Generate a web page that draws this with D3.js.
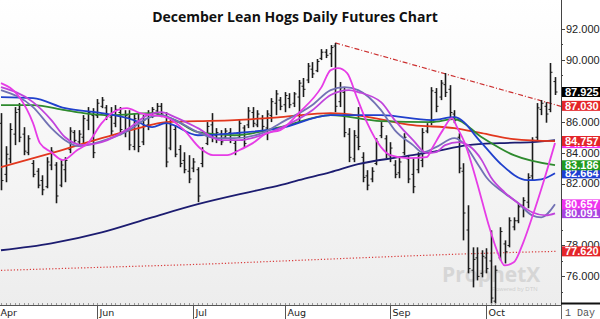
<!DOCTYPE html>
<html>
<head>
<meta charset="utf-8">
<script src="https://cdn.jsdelivr.net/npm/d3@7"></script>
<style>
  body { margin: 0; background: #fff; }
  svg { display: block; }
</style>
</head>
<body>
<div id="chart"></div>
<script>
var width = 600;
var height = 319;

// daily bars
var highs = [86.56,84.42,85.91,86.95,87.21,85.65,85.13,83.52,83.00,82.54,83.71,84.36,83.39,83.52,83.71,85.65,85.46,85.46,86.43,86.95,
  86.88,87.47,87.60,87.08,86.95,87.08,86.95,86.75,86.75,86.56,86.56,86.43,86.75,86.95,87.21,87.21,86.62,86.11,85.78,84.49,
  84.03,83.84,83.65,83.06,84.36,85.98,86.56,85.59,85.46,85.59,85.59,84.81,86.11,85.78,86.95,86.95,86.75,86.43,86.75,87.53,
  88.05,87.60,87.92,87.85,87.92,88.70,88.83,89.80,89.86,90.06,90.70,90.70,90.96,91.09,88.57,88.18,85.59,85.46,86.95,84.03,
  82.87,83.06,84.94,85.98,85.13,84.68,83.52,83.71,85.26,83.84,83.65,84.03,85.59,85.91,88.24,88.18,88.70,89.15,88.37,86.75,
  85.26,83.32,80.60,77.88,77.88,77.69,77.82,78.98,76.71,79.18,78.33,79.82,79.82,80.73,81.12,82.67,85.00,87.21,87.40,87.27,
  89.80,88.89];
var lows = [81.57,82.09,83.32,84.49,84.68,83.84,83.84,82.41,81.70,81.25,81.70,82.87,80.73,81.77,82.09,83.97,84.62,84.49,84.62,85.46,
  83.65,86.24,86.88,86.11,85.13,85.65,85.13,85.00,84.16,84.16,84.03,84.49,85.46,86.24,86.43,86.30,83.06,84.16,83.71,83.06,
  82.67,82.03,82.74,80.80,83.06,84.49,84.68,84.62,84.49,84.94,84.62,83.84,84.94,84.36,85.59,85.65,85.65,85.46,84.81,85.98,
  86.43,86.75,86.62,86.88,86.95,85.98,87.60,88.50,88.83,89.21,89.99,90.12,89.54,86.62,86.95,85.00,83.39,83.39,84.16,82.09,
  81.57,82.09,83.19,84.94,83.65,83.39,82.35,82.35,83.84,82.03,81.38,82.67,83.06,85.26,85.78,86.62,87.40,87.60,86.24,85.91,
  82.67,78.33,76.20,75.29,75.74,75.94,76.20,74.25,74.25,77.04,76.84,77.88,78.98,79.44,79.82,80.41,82.22,84.81,86.43,85.94,
  86.62,87.73];
var opens = [85.9,82.6,83.6,85.2,86.8,85.2,84.0,83.3,82.8,82.2,81.8,83.2,83.2,81.9,82.9,84.2,85.3,84.7,85.0,86.1,
  86.4,86.4,87.0,86.9,86.3,85.9,86.6,85.4,86.3,84.4,86.0,84.7,85.8,86.4,86.7,87.0,86.3,84.3,85.5,84.2,
  83.5,82.8,83.0,82.9,83.3,84.6,85.8,85.1,85.2,85.0,85.3,84.6,85.0,85.6,85.8,86.6,85.8,86.2,85.6,86.4,
  87.2,87.4,87.1,87.5,87.2,87.6,88.3,88.7,89.4,89.3,90.1,90.5,90.4,90.9,87.3,87.9,85.2,83.6,85.0,83.7,
  82.5,82.3,83.3,85.1,84.9,83.8,83.2,82.7,84.0,83.6,82.6,82.9,83.5,85.4,86.0,87.9,87.6,88.4,88.1,86.5,
  85.0,82.8,79.0,76.4,77.2,76.2,77.2,77.0,74.4,77.2,78.1,78.0,79.2,79.6,80.6,80.8,82.5,85.0,86.8,87.0,
  86.8,88.6];
var closes = [82.2,83.9,85.5,86.6,85.0,84.1,84.9,82.6,81.9,81.6,83.4,84.1,81.2,83.2,83.5,85.4,84.8,85.2,86.2,86.6,
  84.0,87.2,87.4,86.4,85.4,86.8,85.5,86.4,84.5,86.2,84.4,86.1,86.5,86.8,87.0,86.5,83.4,85.8,83.9,83.3,
  82.9,82.3,83.4,81.2,84.1,85.7,85.0,85.3,84.7,85.4,84.8,84.1,85.9,84.6,86.7,85.9,86.5,85.7,86.5,87.3,
  87.8,87.0,87.7,87.1,87.8,88.5,88.1,89.6,89.1,89.9,90.5,90.3,90.8,87.0,88.2,85.3,83.7,85.1,84.4,82.4,
  81.9,82.8,84.7,85.7,83.9,84.3,82.6,83.4,85.0,82.3,81.8,83.8,85.3,85.7,88.0,87.0,88.5,87.9,86.6,86.1,
  83.0,80.1,76.5,77.1,76.0,77.3,76.5,74.6,76.4,78.9,77.6,79.6,79.6,80.5,80.9,82.4,84.8,86.9,87.2,86.5,
  89.2,87.925];

// moving averages as [bar index, price]
var maMagenta = [[0,88.50],[4,87.60],[7,85.91],[8.5,84.62],[11,84.03],[13.5,83.52],[16.6,84.16],[19,84.62],[22,85.91],[24.5,86.62],
  [27.5,86.88],[30.4,86.56],[33,86.43],[36,86.30],[40,85.46],[43.5,84.29],[46.3,83.84],[49.4,83.84],[52,84.16],[55,84.62],
  [58,85.26],[61,85.46],[65,86.56],[70,88.24],[72,89.34],[73.6,89.47],[75.6,89.15],[77.7,87.60],[80,85.91],[83,84.36],
  [85,83.84],[88.7,83.65],[93,83.71],[94.3,84.36],[96.5,85.46],[98.5,86.24],[99.6,85.65],[101.3,84.62],[104,82.03],[106.4,79.44],
  [108.3,77.69],[110,76.71],[112,76.91],[114,78.14],[116,79.82],[118.4,82.03],[121,84.62]];
var maViolet = [[0,88.24],[7,87.27],[11,86.11],[14,85.00],[18,84.49],[22,84.68],[28,85.59],[32,86.43],[35,86.62],[38,86.30],
  [43,85.59],[48,84.81],[52,84.81],[57,85.13],[61,85.59],[68,86.75],[72,87.73],[76,88.05],[78,87.92],[83,87.27],
  [86,86.11],[90,84.81],[93,83.97],[95,84.03],[97,84.49],[100,84.68],[102,84.49],[105,83.52],[107,82.41],[110,81.44],
  [113,80.73],[116,80.15],[119,79.95],[121,80.08]];
var maSlate = [[0,88.05],[7,86.95],[11,85.59],[14,84.81],[17,84.42],[22,84.75],[28,85.46],[32,86.24],[35,86.43],[38,86.11],
  [43,85.33],[47,84.94],[51,84.94],[57,85.26],[61,85.91],[68,87.08],[72,88.05],[75,88.24],[78,88.05],[83,86.75],
  [86,85.46],[90,84.49],[92,84.03],[95,84.36],[99,84.94],[101,84.62],[104,83.32],[106,82.41],[110,81.38],[113,80.73],
  [116,79.95],[118,79.82],[121,80.67]];
var maBlue = [[0,87.60],[7,87.53],[14,86.88],[22,86.56],[29,86.11],[33,85.65],[36,85.91],[43,85.13],[51,85.26],[61,85.59],
  [72,86.43],[83,86.43],[94,86.11],[99,86.30],[105,84.62],[109,83.32],[115,82.22],[118,82.28],[121,82.67]];
var maGreen = [[0,87.08],[7,87.08],[14,86.75],[18,86.56],[24,86.43],[33,86.56],[38,86.11],[43,85.33],[51,85.13],[61,85.65],
  [72,86.43],[83,86.04],[94,85.98],[99,86.17],[105,85.00],[112,83.84],[121,83.19]];
var maRed = [[0,83.06],[11,83.97],[22,84.94],[30,85.59],[36,85.98],[43,86.04],[51,86.11],[61,86.30],[72,86.56],[79,86.37],
  [90,85.78],[99,85.59],[105,85.26],[112,84.88],[121,84.75]];
var maNavy = [[0,77.69],[11,78.14],[22,78.85],[33,79.82],[43,80.67],[54,81.44],[61,81.90],[65,82.22],[72,82.74],[78,83.26],
  [87,83.71],[94,84.03],[102,84.49],[109,84.62],[116,84.68],[121,84.81]];
var maLong = [[0,76.39],[22,76.59],[43,76.78],[65,77.04],[87,77.30],[105,77.49],[121.3,77.62]];
var trendLine = [[73,91.1],[122.3,87.0]];

var monthLabels = ["Apr", "Jun", "Jul", "Aug", "Sep", "Oct"];
var monthIdx = [-0.6, 21, 42, 62, 85, 106];
var priceTicks = [76, 78, 80, 82, 84, 86, 88, 90, 92];

// right-hand value flags
var flagValues = [84.62, 87.925, 87.030, 84.757, 82.664, 83.186, 80.091, 80.657, 77.620];
var flagTexts = ["84.620", "87.925", "87.030", "84.757", "82.664", "83.186", "80.091", "80.657", "77.620"];

var svg = d3.select("#chart").append("svg")
    .attr("width", width)
    .attr("height", height)
    .style("font-family", "'Liberation Sans', Arial, sans-serif");

var plotRight = 561, plotBottom = 305;

var defs = svg.append("defs");
var grad = defs.append("linearGradient").attr("id", "bg").attr("x1", 0).attr("x2", 0).attr("y1", 0).attr("y2", 1);
grad.append("stop").attr("offset", "0%").attr("stop-color", "#ffffff");
grad.append("stop").attr("offset", "100%").attr("stop-color", "#ededed");
defs.append("clipPath").attr("id", "clip")
  .append("rect").attr("x", 0).attr("y", 0).attr("width", plotRight).attr("height", plotBottom);

svg.append("rect").attr("width", width).attr("height", height).attr("fill", "#fff");
svg.append("rect").attr("width", plotRight).attr("height", plotBottom).attr("fill", "url(#bg)");

var x = d3.scaleLinear().domain([0, 121]).range([1, 555]);
var y = d3.scaleLinear().domain([76, 92]).range([276.4, 29]);

// title
var title = svg.append("text")
    .attr("x", 295).attr("y", 22)
    .attr("text-anchor", "middle")
    .style("font-family", "'Open Sans', sans-serif")
    .style("font-weight", "bold")
    .style("font-size", "15px")
    .attr("fill", "#111")
    .text("December Lean Hogs Daily Futures Chart");
var tw = title.node().getComputedTextLength();
title.style("font-size", (15 * 286 / tw) + "px");

// watermark
svg.append("text").attr("x", 442).attr("y", 282)
    .style("font-family", "'Open Sans', sans-serif").style("font-weight", "bold").style("font-size", "21px")
    .attr("fill", "#d6d6d6").text("ProphetX");
svg.append("text").attr("x", 492).attr("y", 291)
    .style("font-size", "6px").attr("fill", "#cfcfcf").text("Powered by DTN");

var plot = svg.append("g").attr("clip-path", "url(#clip)");

var line = d3.line()
    .x(d => x(d[0]))
    .y(d => y(d[1]))
    .curve(d3.curveMonotoneX);

// long term dotted + trend line
plot.append("path").datum(maLong).attr("d", line)
    .attr("fill", "none").attr("stroke", "#d83a3a").attr("stroke-width", 1.2).attr("stroke-dasharray", "1.2,2");
plot.append("path").datum(trendLine).attr("d", d3.line().x(d => x(d[0])).y(d => y(d[1])))
    .attr("fill", "none").attr("stroke", "#cc3030").attr("stroke-width", 1.2).attr("stroke-dasharray", "5,2,1,2");

// bars
var bars = plot.append("g").attr("stroke", "#1b1b1b");
highs.forEach(function(h, i) {
  var cx = Math.round(x(i)) + 0.5;
  bars.append("line").attr("x1", cx).attr("x2", cx).attr("y1", y(h)).attr("y2", y(lows[i])).attr("stroke-width", 1.6);
  bars.append("line").attr("x1", cx - 2).attr("x2", cx).attr("y1", y(opens[i])).attr("y2", y(opens[i])).attr("stroke-width", 1);
  bars.append("line").attr("x1", cx).attr("x2", cx + 2).attr("y1", y(closes[i])).attr("y2", y(closes[i])).attr("stroke-width", 1);
});

// moving averages
var maSeries = [
  { data: maNavy, color: "#1c1c70" },
  { data: maRed, color: "#e2371e" },
  { data: maGreen, color: "#2e8a2e" },
  { data: maBlue, color: "#2040cc" },
  { data: maSlate, color: "#7272b4" },
  { data: maViolet, color: "#c044dc" },
  { data: maMagenta, color: "#e63ce6" }
];
plot.selectAll(".ma").data(maSeries).enter().append("path")
    .attr("class", "ma")
    .attr("d", d => line(d.data))
    .attr("fill", "none")
    .attr("stroke", d => d.color)
    .attr("stroke-width", 1.8);

// right axis
var axisG = svg.append("g").attr("fill", "#222").style("font-size", "11px");
svg.append("line").attr("x1", plotRight + 0.5).attr("x2", plotRight + 0.5).attr("y1", 0).attr("y2", plotBottom)
    .attr("stroke", "#444");
d3.range(75, 93).forEach(function(v) {
  svg.append("line").attr("x1", plotRight).attr("x2", plotRight + (v % 2 === 0 ? 4 : 2))
    .attr("y1", Math.round(y(v)) + 0.5).attr("y2", Math.round(y(v)) + 0.5).attr("stroke", "#444");
});
axisG.selectAll("text").data(priceTicks).enter().append("text")
    .attr("x", 566).attr("y", d => y(d)).attr("dy", "0.35em")
    .text(d => d3.format(".3f")(d));

// flags
var flagColors = ["#ee34ee", "#000000", "#e4262a", "#e4262a", "#1e3ed2", "#219a21", "#a844e0", "#ee34ee", "#e4262a"];
var flags = svg.append("g");
flagValues.forEach(function(v, i) {
  var cy = y(v);
  flags.append("rect").attr("x", 562).attr("y", cy - 5).attr("width", 38).attr("height", 10).attr("fill", flagColors[i]);
  flags.append("text").attr("x", 565).attr("y", cy).attr("dy", "0.36em")
    .attr("fill", "#fff").style("font-size", "11px").style("font-weight", "bold").text(flagTexts[i]);
});

// bottom axis
svg.append("rect").attr("x", 0).attr("y", plotBottom).attr("width", width).attr("height", height - plotBottom).attr("fill", "#fff");
svg.append("line").attr("x1", 0).attr("x2", plotRight).attr("y1", plotBottom + 0.5).attr("y2", plotBottom + 0.5).attr("stroke", "#555");
highs.forEach(function(h, i) {
  var cx = Math.round(x(i)) + 0.5;
  svg.append("line").attr("x1", cx).attr("x2", cx).attr("y1", plotBottom - 2).attr("y2", plotBottom).attr("stroke", "#999");
});
monthIdx.forEach(function(m, i) {
  var mx = Math.round(x(m)) + 0.5;
  svg.append("line").attr("x1", mx).attr("x2", mx).attr("y1", plotBottom).attr("y2", height).attr("stroke", "#555");
  svg.append("text").attr("x", mx + 2).attr("y", 316).attr("fill", "#222")
    .style("font-family", "'DejaVu Sans', sans-serif").style("font-size", "9.5px").text(monthLabels[i]);
});

// period box
svg.append("line").attr("x1", plotRight).attr("x2", width).attr("y1", 303.5).attr("y2", 303.5).attr("stroke", "#111").attr("stroke-width", 2);
svg.append("line").attr("x1", plotRight + 0.5).attr("x2", plotRight + 0.5).attr("y1", plotBottom).attr("y2", height).attr("stroke", "#666");
svg.append("text").attr("x", 565).attr("y", 316).attr("fill", "#555")
    .style("font-family", "'Liberation Mono', monospace").style("font-size", "10px").text("1 Day");
</script>
</body>
</html>
